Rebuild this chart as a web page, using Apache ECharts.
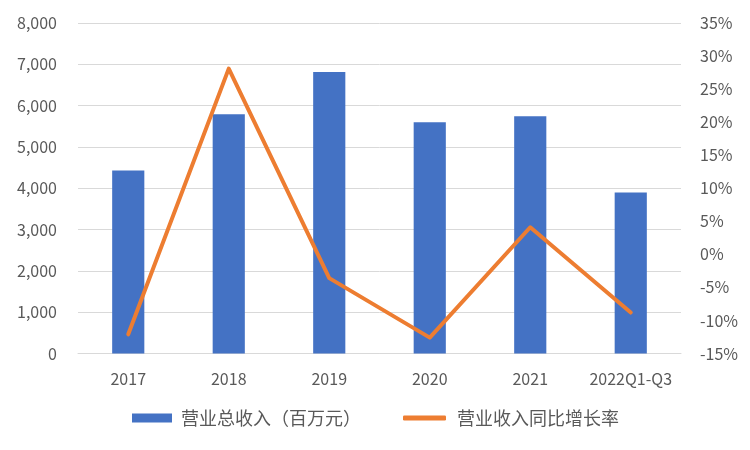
<!DOCTYPE html>
<html>
<head>
<meta charset="utf-8">
<script src="https://cdn.jsdelivr.net/npm/echarts@6/dist/echarts.min.js"></script>
<style>html,body{margin:0;padding:0;background:#fff;}#main{width:750px;height:450px;}</style>
</head>
<body>
<div id="main"></div>
<script>
var categories = ['2017', '2018', '2019', '2020', '2021', '2022Q1-Q3'];
var revenue = [4430, 5794, 6811, 5597, 5743, 3896];
var growth = [-12.1, 28.1, -3.6, -12.6, 4.1, -8.8];
var barName = '营业总收入（百万元）';
var lineName = '营业收入同比增长率';

var font = '"Noto Sans CJK SC", "Noto Sans", sans-serif';
var labelColor = '#595959';
var chart = echarts.init(document.getElementById('main'));
chart.setOption({
  animation: false,
  backgroundColor: '#fff',
  textStyle: { fontFamily: font },
  grid: { left: 78, right: 69, top: 23, bottom: 96.5, containLabel: false },
  legend: [
    {
      data: [{ name: barName, icon: 'rect' }],
      left: 132, top: 409, padding: 0,
      itemWidth: 40, itemHeight: 9,
      textStyle: { fontSize: 18, color: labelColor, fontFamily: font, padding: [0, 0, 0, 4] }
    },
    {
      data: [{ name: lineName, icon: 'roundRect' }],
      left: 403, top: 409, padding: 0,
      itemWidth: 43, itemHeight: 5,
      textStyle: { fontSize: 18, color: labelColor, fontFamily: font, padding: [0, 0, 0, 6] }
    }
  ],
  xAxis: {
    type: 'category',
    data: categories,
    axisTick: { show: false },
    axisLine: { show: true, lineStyle: { color: '#d9d9d9', width: 1 } },
    axisLabel: { color: labelColor, fontSize: 16, margin: 17, fontFamily: font, interval: 0 }
  },
  yAxis: [
    {
      type: 'value', min: 0, max: 8000, interval: 1000,
      axisLine: { show: false }, axisTick: { show: false },
      splitLine: { lineStyle: { color: '#d9d9d9', width: 1 } },
      axisLabel: {
        color: labelColor, fontSize: 16, margin: 21, fontFamily: font,
        formatter: function (v) { return v.toString().replace(/\B(?=(\d{3})+(?!\d))/g, ','); }
      }
    },
    {
      type: 'value', min: -15, max: 35, interval: 5,
      axisLine: { show: false }, axisTick: { show: false },
      splitLine: { show: false },
      axisLabel: { color: labelColor, fontSize: 16, margin: 19, fontFamily: font, formatter: '{value}%' }
    }
  ],
  series: [
    {
      name: barName, type: 'bar', data: revenue, barWidth: '32%',
      itemStyle: { color: '#4472C4' }
    },
    {
      name: lineName, type: 'line', yAxisIndex: 1, data: growth,
      showSymbol: false, symbol: 'none',
      lineStyle: { color: '#ED7D31', width: 4, cap: 'round', join: 'round' },
      itemStyle: { color: '#ED7D31' }
    }
  ]
});
</script>
</body>
</html>
